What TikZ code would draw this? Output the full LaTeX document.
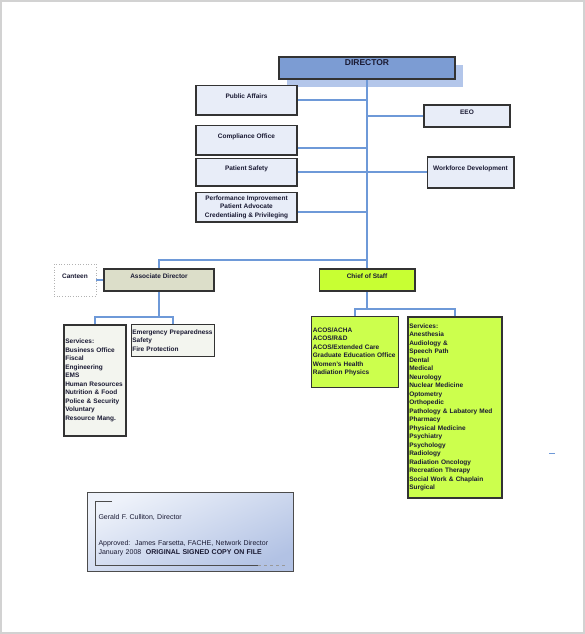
\documentclass[tikz,border=0pt]{standalone}
\usepackage{fontspec}
\setmainfont{Liberation Sans}
\usepackage{xcolor}
\usepackage{tikz}
\usetikzlibrary{positioning,shadows}

\definecolor{dirblue}{HTML}{7C9CD3}
\definecolor{dirshade}{HTML}{B3C6EA}
\definecolor{paleblue}{HTML}{E8EDF8}
\definecolor{khaki}{HTML}{DCDEC9}
\definecolor{paleivory}{HTML}{F3F5EF}
\definecolor{lime}{HTML}{CCFF4D}
\definecolor{chieflime}{HTML}{C8FF33}
\definecolor{linkblue}{HTML}{6E99D8}
\definecolor{inkc}{HTML}{1A1A33}
\definecolor{framegray}{HTML}{D2D2D2}
\definecolor{sigtop}{HTML}{EEF2FA}
\definecolor{sigblue}{HTML}{B2C2E4}

\begin{document}
\begin{tikzpicture}[x=1pt, y=-1pt, font=\fontsize{6.5}{8.5}\selectfont\bfseries, text=inkc]
    \tikzstyle{unit} = [rectangle, draw=black!80, line width=1.6pt, fill=paleblue, inner sep=1.5pt]
    \tikzstyle{toptext} = [text height=2pt, text depth=6pt]
    \tikzstyle{listbox} = [rectangle, draw=black!80, line width=1.6pt, fill=paleivory, align=left, inner xsep=1.5pt, inner ysep=0pt]
    \tikzstyle{link} = [draw=linkblue, line width=1.1pt]

    \useasboundingbox (0,0) rectangle (585,634);
    \draw[framegray, line width=1.5pt] (1,1) rectangle (584,633);

    % Director and staff offices
    \node [unit, fill=dirblue, toptext, minimum width=176.4pt, minimum height=22.4pt, font=\fontsize{8.5}{10}\selectfont\bfseries,
           drop shadow={shadow xshift=8pt, shadow yshift=-8pt, fill=dirshade, opacity=1}] (director) at (367,68) {DIRECTOR};
    \node [unit, toptext, minimum width=101.4pt, minimum height=29.4pt] (pubaff) at (246.5,100) {Public Affairs};
    \node [unit, toptext, minimum width=101.4pt, minimum height=29.4pt, below=9pt of pubaff] (comp) {Compliance Office};
    \node [unit, toptext, minimum width=101.4pt, minimum height=27.4pt, below=2pt of comp] (safety) {Patient Safety};
    \node [unit, align=center, minimum width=101.4pt, minimum height=29.4pt, below=5pt of safety] (perf) {Performance Improvement\\ Patient Advocate\\ Credentialing \& Privileging};
    \node [unit, toptext, minimum width=86.4pt, minimum height=22.4pt] (eeo) at (467,116) {EEO};
    \node [unit, toptext, minimum width=86.4pt, minimum height=31.4pt] (workforce) at (470.5,172.5) {Workforce Development};

    % Associate Director side
    \node [unit, fill=khaki, toptext, minimum width=110.4pt, minimum height=22.4pt] (assoc) at (159,280) {Associate Director};
    \node [rectangle, draw=black!30, dotted, line width=0.7pt, toptext, minimum width=42pt, minimum height=32pt] (canteen) at (75,280) {Canteen};
    \node [listbox, text width=59.4pt, minimum height=111.4pt] (svcL) at (95,380.5) {Services:\\ Business Office\\ Fiscal\\ Engineering\\ EMS\\ Human Resources\\ Nutrition \& Food\\ Police \& Security\\ Voluntary\\ Resource Mang.};
    \node [listbox, line width=0.8pt, inner xsep=1pt, text width=81.2pt, minimum height=32.2pt] (emerg) at (173,340.5) {Emergency Preparedness\\ Safety\\ Fire Protection};

    % Chief of Staff side
    \node [unit, fill=chieflime, toptext, minimum width=95.4pt, minimum height=22.4pt] (chief) at (367,280) {Chief of Staff};
    \node [listbox, fill=lime, line width=0.8pt, text width=84.2pt, minimum height=71.2pt] (acos) at (355,352) {ACOS/ACHA\\ ACOS/R\&D\\ ACOS/Extended Care\\ Graduate Education Office\\ Women's Health\\ Radiation Physics};
    \node [listbox, fill=lime, text width=91.4pt, minimum height=181.4pt] (svcR) at (455,407.5) {Services:\\ Anesthesia\\ Audiology \&\\ Speech Path\\ Dental\\ Medical\\ Neurology\\ Nuclear Medicine\\ Optometry\\ Orthopedic\\ Pathology \& Labatory Med\\ Pharmacy\\ Physical Medicine\\ Psychiatry\\ Psychology\\ Radiology\\ Radiation Oncology\\ Recreation Therapy\\ Social Work \& Chaplain\\ Surgical};

    % Signature block
    \node [rectangle, draw=black!70, line width=0.8pt, top color=sigtop, bottom color=sigblue, shading angle=25,
           minimum width=206.2pt, minimum height=79.2pt, inner xsep=11pt, text width=184pt, align=left,
           font=\fontsize{7}{8.7}\selectfont] (sig) at (190.5,532)
          {\rule{0pt}{12pt}Gerald F. Culliton, Director\\[17.3pt] Approved:\ \ James Farsetta, FACHE, Network Director\\ January 2008\ \ \textbf{ORIGINAL SIGNED COPY ON FILE}};
    \draw[black!70, line width=0.8pt] ([shift={(25,9)}]sig.north west) -- ([shift={(8,9)}]sig.north west) -- ([shift={(8,-7)}]sig.south west) -- ([shift={(171,-7)}]sig.south west);
    \draw[black!40, line width=0.8pt, dashed] ([shift={(171,-7)}]sig.south west) -- ([shift={(200,-7)}]sig.south west);

    % Connections
    \coordinate (split) at (367,260);
    \coordinate (adsplit) at (159,317);
    \coordinate (cossplit) at (367,309);
    \draw[link] (director.south) -- (chief.north);
    \draw[link] (split) -| (assoc.north);
    \draw[link] (pubaff.east) -- (pubaff.east -| director.south);
    \draw[link] ([yshift=-8pt]comp.east) -- ([yshift=-8pt]comp.east -| director.south);
    \draw[link] (safety.east) -- (workforce.west |- safety.east);
    \draw[link] ([yshift=-5pt]perf.east) -- ([yshift=-5pt]perf.east -| director.south);
    \draw[link] (eeo.west) -- (eeo.west -| director.south);
    \draw[link] (canteen.east) -- (assoc.west);
    \draw[link] (assoc.south) -- (adsplit) -| (svcL.north);
    \draw[link] (adsplit) -| (emerg.north);
    \draw[link] (chief.south) -- (cossplit) -| (acos.north);
    \draw[link] (cossplit) -| (svcR.north);

    % stray mark
    \coordinate (stray) at (549,453);
    \draw[link, line width=1pt] (stray) -- ++(6,0);
\end{tikzpicture}
\end{document}
